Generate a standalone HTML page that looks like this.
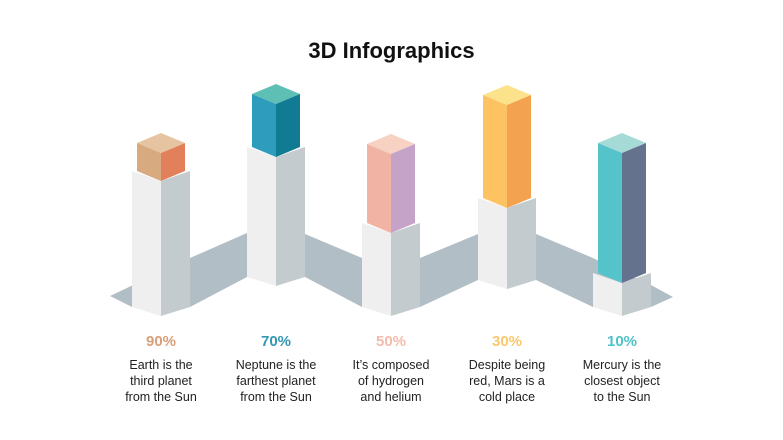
<!DOCTYPE html>
<html><head><meta charset="utf-8"><style>
html,body{margin:0;padding:0;background:#fff;}
svg{display:block;}
text{font-family:"Liberation Sans",sans-serif;}
</style></head><body>
<svg width="783" height="440" viewBox="0 0 783 440" xmlns="http://www.w3.org/2000/svg">
<rect width="783" height="440" fill="#ffffff"/>
<text x="391.5" y="58" text-anchor="middle" font-size="22" font-weight="bold" fill="#111">3D Infographics</text>
<!-- floor band -->
<polygon fill="#b2bec6" points="110,296 190,258 247,233 276,220 305,234 362,258 391,270 420,258 478,234 507,220 536,234 593,258 622,272 651,285 673,297 651,307 593,307 536,280 478,280 420,307 362,307 305,277 247,277 190,307 132,307"/>
<!-- pillar 1 -->
<polygon fill="#efefef" points="132,171 161,181 161,316 132,307"/>
<polygon fill="#c3cbce" points="161,181 190,171 190,307 161,316"/>
<polygon fill="#e6c4a2" points="161,133 185,143 161,153 137,143"/>
<polygon fill="#d8aa80" points="137,143 161,153 161,181 137,171"/>
<polygon fill="#e2805c" points="161,153 185,143 185,171 161,181"/>
<!-- pillar 2 -->
<polygon fill="#efefef" points="247,147 276,157 276,286 247,277"/>
<polygon fill="#c3cbce" points="276,157 305,147 305,277 276,286"/>
<polygon fill="#5ebfb5" points="276,84 300,94 276,104 252,94"/>
<polygon fill="#2e9cbc" points="252,94 276,104 276,157 252,147"/>
<polygon fill="#127b94" points="276,104 300,94 300,147 276,157"/>
<!-- pillar 3 -->
<polygon fill="#efefef" points="362,223 391,233 391,316 362,307"/>
<polygon fill="#c3cbce" points="391,233 420,223 420,307 391,316"/>
<polygon fill="#f7d2c2" points="391,134 415,144 391,154 367,144"/>
<polygon fill="#f1b3a3" points="367,144 391,154 391,233 367,223"/>
<polygon fill="#c5a3c8" points="391,154 415,144 415,223 391,233"/>
<!-- pillar 4 -->
<polygon fill="#efefef" points="478,198 507,208 507,289 478,280"/>
<polygon fill="#c3cbce" points="507,208 536,198 536,280 507,289"/>
<polygon fill="#fde28c" points="507,85 531,95 507,105 483,95"/>
<polygon fill="#fdc262" points="483,95 507,105 507,208 483,198"/>
<polygon fill="#f3a24f" points="507,105 531,95 531,198 507,208"/>
<!-- pillar 5 -->
<polygon fill="#efefef" points="593,273 622,283 622,316 593,307"/>
<polygon fill="#c3cbce" points="622,283 651,273 651,307 622,316"/>
<polygon fill="#a6dad7" points="622,133 646,143 622,153 598,143"/>
<polygon fill="#54c4ca" points="598,143 622,153 622,283 598,273"/>
<polygon fill="#64728e" points="622,153 646,143 646,273 622,283"/>
<!-- labels -->
<g font-size="15" font-weight="bold" text-anchor="middle">
<text x="161" y="346" fill="#d89f78">90%</text>
<text x="276" y="346" fill="#3396b2">70%</text>
<text x="391" y="346" fill="#f3bcac">50%</text>
<text x="507" y="346" fill="#fac86c">30%</text>
<text x="622" y="346" fill="#4fc2c8">10%</text>
</g>
<g font-size="12.5" fill="#222" text-anchor="middle">
<text x="161" y="369">Earth is the</text><text x="161" y="385">third planet</text><text x="161" y="401">from the Sun</text>
<text x="276" y="369">Neptune is the</text><text x="276" y="385">farthest planet</text><text x="276" y="401">from the Sun</text>
<text x="391" y="369">It’s composed</text><text x="391" y="385">of hydrogen</text><text x="391" y="401">and helium</text>
<text x="507" y="369">Despite being</text><text x="507" y="385">red, Mars is a</text><text x="507" y="401">cold place</text>
<text x="622" y="369">Mercury is the</text><text x="622" y="385">closest object</text><text x="622" y="401">to the Sun</text>
</g>
</svg>
</body></html>
